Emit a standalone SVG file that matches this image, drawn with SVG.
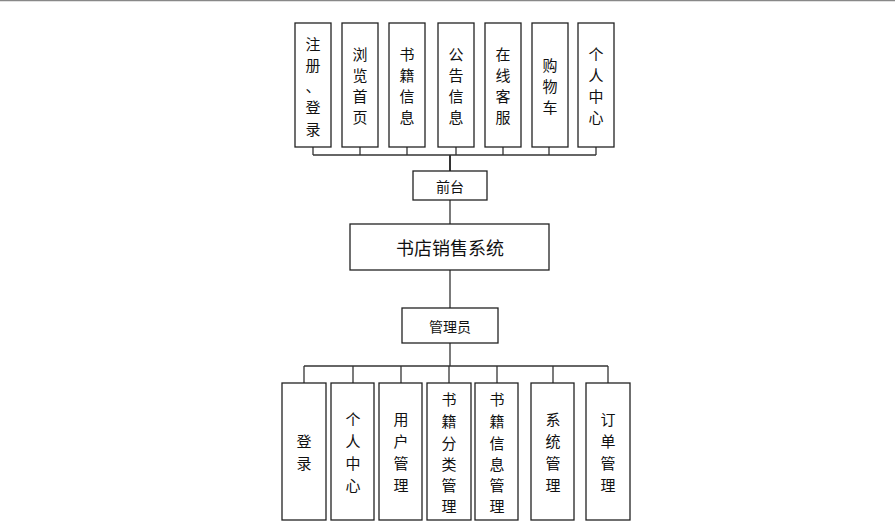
<svg xmlns="http://www.w3.org/2000/svg" width="895" height="530" viewBox="0 0 895 530">
<style>
rect{fill:#fff;stroke:#222;stroke-width:1.3}
text{font-family:"Noto Sans CJK SC","Liberation Sans",sans-serif;font-size:15px;fill:#111;text-anchor:middle;dominant-baseline:central}
.c line{stroke:#333;stroke-width:1.3}
</style>
<rect x="0" y="0" width="895" height="530" style="fill:#fff;stroke:none"/>
<line x1="0" y1="0.5" x2="895" y2="0.5" stroke="#888" stroke-width="1.5"/>
<g class="c">
<line x1="313" y1="155" x2="596" y2="155"/>
<line x1="313" y1="147" x2="313" y2="155"/><line x1="360" y1="147" x2="360" y2="155"/><line x1="407" y1="147" x2="407" y2="155"/><line x1="456" y1="147" x2="456" y2="155"/><line x1="503" y1="147" x2="503" y2="155"/><line x1="549" y1="147" x2="549" y2="155"/><line x1="596" y1="147" x2="596" y2="155"/>
<line x1="450" y1="155" x2="450" y2="171" style="stroke-width:2"/>
<line x1="450" y1="200" x2="450" y2="224"/>
<line x1="450" y1="270" x2="450" y2="308"/>
<line x1="450" y1="343" x2="450" y2="366"/>
<line x1="304" y1="366" x2="608" y2="366"/>
<line x1="304" y1="366" x2="304" y2="383"/><line x1="353" y1="366" x2="353" y2="383"/><line x1="401" y1="366" x2="401" y2="383"/><line x1="449" y1="366" x2="449" y2="383"/><line x1="497" y1="366" x2="497" y2="383"/><line x1="553" y1="366" x2="553" y2="383"/><line x1="608" y1="366" x2="608" y2="383"/>
</g>
<g id="t1"><rect x="295" y="23" width="36" height="124"/><text x="313" y="43">注</text><text x="313" y="64">册</text><text x="313" y="85">、</text><text x="313" y="106">登</text><text x="313" y="128">录</text></g>
<g id="t2"><rect x="342" y="23" width="36" height="124"/><text x="360" y="53">浏</text><text x="360" y="74">览</text><text x="360" y="95">首</text><text x="360" y="116">页</text></g>
<g id="t3"><rect x="389" y="23" width="36" height="124"/><text x="407" y="53">书</text><text x="407" y="74">籍</text><text x="407" y="95">信</text><text x="407" y="116">息</text></g>
<g id="t4"><rect x="438" y="23" width="36" height="124"/><text x="456" y="53">公</text><text x="456" y="74">告</text><text x="456" y="95">信</text><text x="456" y="116">息</text></g>
<g id="t5"><rect x="485" y="23" width="36" height="124"/><text x="503" y="53">在</text><text x="503" y="74">线</text><text x="503" y="95">客</text><text x="503" y="116">服</text></g>
<g id="t6"><rect x="532" y="23" width="36" height="124"/><text x="550" y="64">购</text><text x="550" y="85">物</text><text x="550" y="106">车</text></g>
<g id="t7"><rect x="578" y="23" width="36" height="124"/><text x="596" y="53">个</text><text x="596" y="74">人</text><text x="596" y="95">中</text><text x="596" y="116">心</text></g>
<g id="front"><rect x="413" y="171" width="74" height="29"/><text x="450" y="185.5" style="font-size:14px">前台</text></g>
<g id="main"><rect x="350" y="224" width="199" height="46"/><text x="450" y="247" style="font-size:18px">书店销售系统</text></g>
<g id="admin"><rect x="402" y="308" width="96" height="35"/><text x="450" y="325.5" style="font-size:14px">管理员</text></g>
<g id="b1"><rect x="282" y="383" width="44" height="137"/><text x="304" y="440">登</text><text x="304" y="462">录</text></g>
<g id="b2"><rect x="331" y="383" width="43" height="137"/><text x="353" y="418">个</text><text x="353" y="440">人</text><text x="353" y="462">中</text><text x="353" y="484">心</text></g>
<g id="b3"><rect x="379" y="383" width="43" height="137"/><text x="401" y="418">用</text><text x="401" y="440">户</text><text x="401" y="462">管</text><text x="401" y="484">理</text></g>
<g id="b4"><rect x="427" y="383" width="44" height="137"/><text x="449" y="398">书</text><text x="449" y="420">籍</text><text x="449" y="442">分</text><text x="449" y="463">类</text><text x="449" y="484">管</text><text x="449" y="505">理</text></g>
<g id="b5"><rect x="475" y="383" width="43" height="137"/><text x="497" y="398">书</text><text x="497" y="420">籍</text><text x="497" y="442">信</text><text x="497" y="463">息</text><text x="497" y="484">管</text><text x="497" y="505">理</text></g>
<g id="b6"><rect x="531" y="383" width="43" height="137"/><text x="553" y="418">系</text><text x="553" y="440">统</text><text x="553" y="462">管</text><text x="553" y="484">理</text></g>
<g id="b7"><rect x="586" y="383" width="44" height="137"/><text x="608" y="418">订</text><text x="608" y="440">单</text><text x="608" y="462">管</text><text x="608" y="484">理</text></g>
</svg>
